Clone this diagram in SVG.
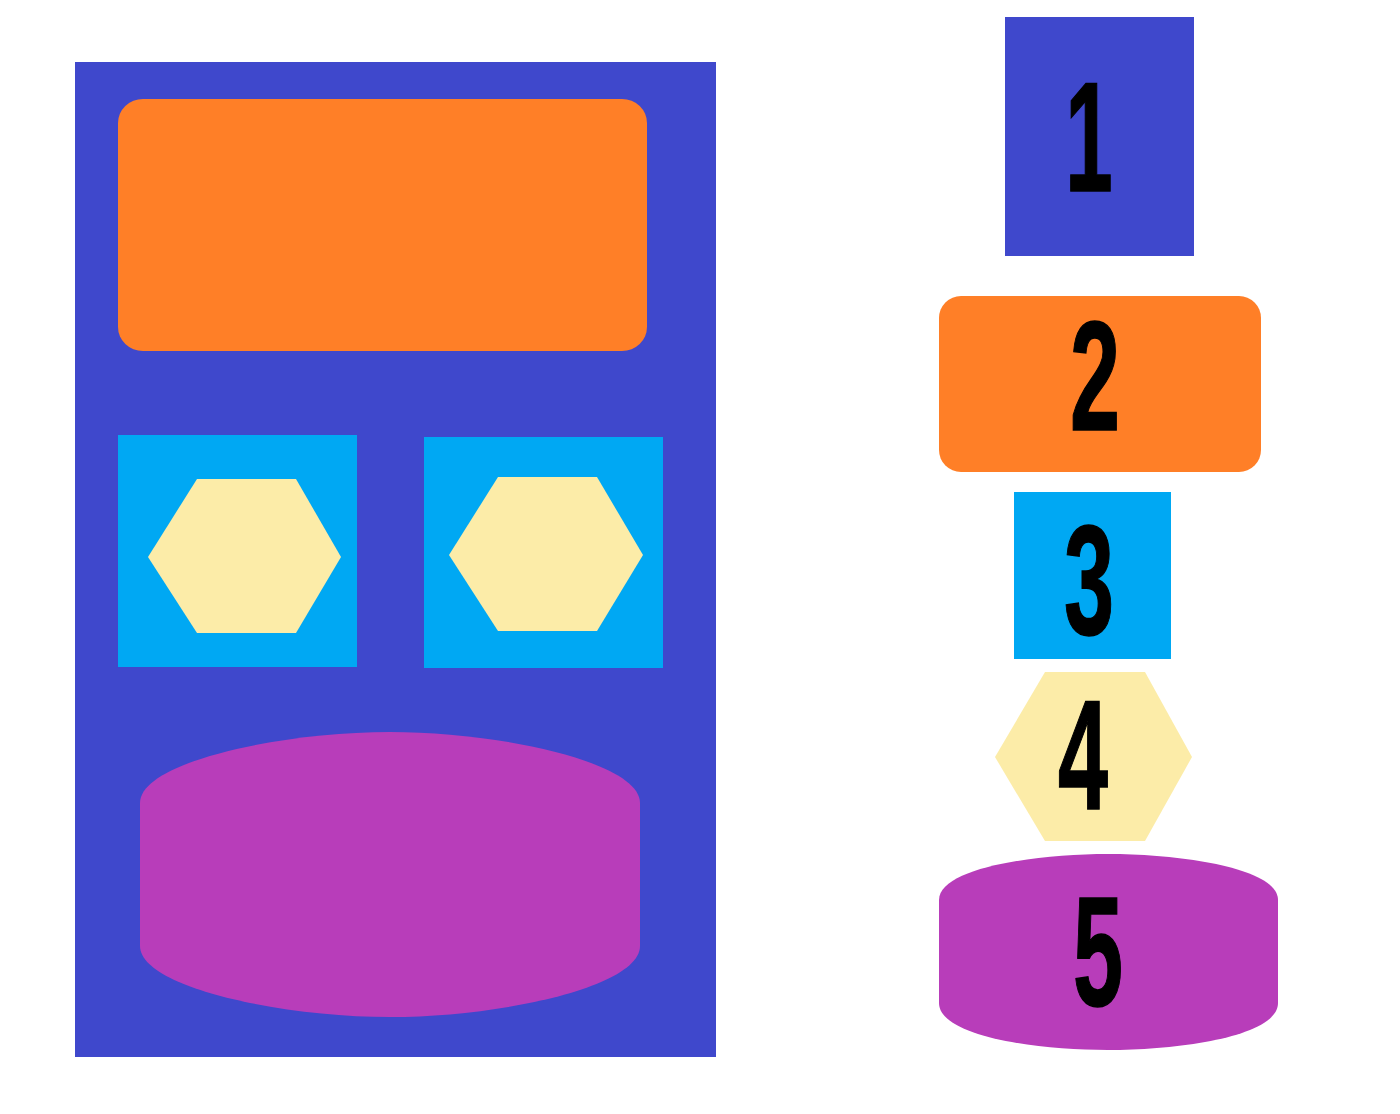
<svg xmlns="http://www.w3.org/2000/svg" width="1400" height="1114" viewBox="0 0 1400 1114">
<style>
.blue{fill:#3F48CC}
.orange{fill:#FF7F27}
.cyan{fill:#00A8F3}
.yellow{fill:#FCECA8}
.purple{fill:#B83DBA}
.num{font-family:"Liberation Sans",Arial,sans-serif;font-weight:bold;font-size:155px;fill:#000;stroke:#000;stroke-width:1.5;text-anchor:middle}
</style>
<rect width="1400" height="1114" fill="#FFFFFF"/>
<g id="container">
<rect class="blue" x="75" y="62" width="641" height="995"/>
</g>
<g id="inner-orange">
<rect class="orange" x="118" y="99" width="529" height="252" rx="25" ry="24"/>
</g>
<g id="inner-cyan-left">
<rect class="cyan" x="118" y="435" width="239" height="232"/>
<polygon class="yellow" points="148,557 197,479 296,479 341,557 296,633 197,633"/>
</g>
<g id="inner-cyan-right">
<rect class="cyan" x="424" y="437" width="239" height="231"/>
<polygon class="yellow" points="449,555 498,477 597,477 643,555 597,631 498,631"/>
</g>
<g id="inner-purple">
<path class="purple" d="M140,803 C140,762 280,732 390,732 C500,732 640,762 640,803 L640,946 C640,987 500,1017 390,1017 C280,1017 140,987 140,946 Z"/>
</g>
<g id="connectors"></g>
<g id="legend-1">
<rect class="blue" x="1005" y="17" width="189" height="239"/>
<text class="num" transform="translate(1089,191) scale(0.55,1)">1</text>
</g>
<g id="legend-2">
<rect class="orange" x="939" y="296" width="322" height="176" rx="22" ry="22"/>
<text class="num" transform="translate(1095,430) scale(0.58,1)">2</text>
</g>
<g id="legend-3">
<rect class="cyan" x="1014" y="492" width="157" height="167"/>
<text class="num" transform="translate(1089,634) scale(0.58,1)">3</text>
</g>
<g id="legend-4">
<polygon class="yellow" points="995,757 1045,672 1145,672 1192,757 1145,841 1045,841"/>
<text class="num" transform="translate(1083,809) scale(0.58,1)">4</text>
</g>
<g id="legend-5">
<path class="purple" d="M939,900 C939,868 1035,854 1108,854 C1181,854 1278,868 1278,900 L1278,1003 C1278,1036 1181,1050 1108,1050 C1035,1050 939,1036 939,1003 Z"/>
<text class="num" transform="translate(1098,1005) scale(0.58,1)">5</text>
</g>
</svg>
